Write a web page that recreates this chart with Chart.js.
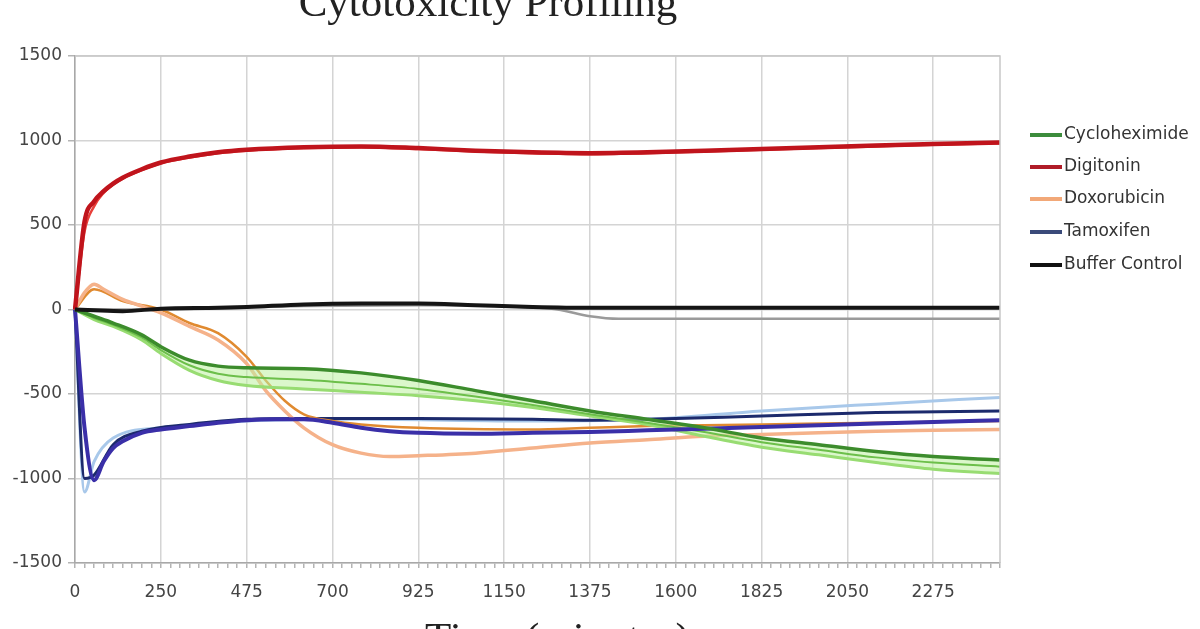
<!DOCTYPE html>
<html><head><meta charset="utf-8">
<script src="https://cdn.jsdelivr.net/npm/chart.js@4.4.1/dist/chart.umd.min.js"></script>
<style>html,body{margin:0;padding:0;background:#fff;}#wrap{width:1200px;height:629px;position:relative;}</style>
</head><body><div id="wrap"><canvas id="c"></canvas></div>
<script>
// Time categories (minutes)
const categories = [0,50,75,100,125,150,175,200,225,250,275,300,325,350,375,400,425,450,475,500,525,550,575,600,625,650,675,700,725,750,775,800,825,850,875,900,925,950,975,1000,1025,1050,1075,1100,1125,1150,1175,1200,1225,1250,1275,1300,1325,1350,1375,1400,1425,1450,1475,1500,1525,1550,1575,1600,1625,1650,1675,1700,1725,1750,1775,1800,1825,1850,1875,1900,1925,1950,1975,2000,2025,2050,2075,2100,2125,2150,2175,2200,2225,2250,2275,2300,2325,2350,2375,2400,2425,2450];
const xTickLabels = [0,250,475,700,925,1150,1375,1600,1825,2050,2275];
const yTickValues = [-1500,-1000,-500,0,500,1000,1500];

// Digitonin
const digiT = [0,50,75,100,125,150,200,250,325,400,475,625,775,925,1075,1225,1375,1525,1675,1825,1975,2125,2275,2450];
const digiV = [0,520,640,700,745,780,830,870,905,930,945,960,965,955,940,930,925,930,940,950,960,970,980,988];
const digiRepV = [0,460,610,690,740,775,825,865,900,925,940,955,960,950,935,925,918,925,935,945,955,965,975,983];

// Cycloheximide
const cycloT = [0,75,125,200,250,325,400,475,625,775,925,1075,1225,1375,1525,1675,1825,1975,2125,2275,2450];
const cycloV = [0,-40,-80,-150,-220,-300,-335,-345,-350,-375,-420,-480,-540,-600,-650,-700,-760,-800,-840,-870,-890];
const cycloMidV = [0,-50,-90,-165,-240,-330,-380,-400,-415,-440,-470,-515,-565,-620,-670,-725,-785,-830,-875,-905,-930];
const cycloLowV = [0,-60,-100,-180,-260,-360,-420,-450,-470,-490,-510,-540,-580,-630,-680,-750,-815,-860,-905,-945,-970];

// Doxorubicin
const doxoT = [0,50,75,100,150,200,250,325,400,475,525,575,625,700,775,850,925,1075,1225,1375,1525,1675,1825,1975,2125,2275,2450];
const doxoV = [0,100,150,120,60,20,-20,-100,-180,-320,-480,-600,-700,-800,-850,-870,-865,-850,-820,-790,-770,-750,-740,-730,-720,-715,-710];
const doxoRepT = [0,75,150,250,325,400,475,525,575,625,700,775,925,1225,1375,1525,1825,2125,2450];
const doxoRepV = [0,120,50,0,-80,-140,-280,-420,-540,-620,-660,-680,-700,-710,-700,-690,-680,-670,-660];

// Tamoxifen
const tamoT = [0,50,75,100,125,150,200,250,325,400,475,550,625,700,775,850,925,1075,1225,1375,1525,1675,1825,1975,2125,2275,2450];
const tamoV = [0,-700,-1010,-900,-820,-780,-730,-710,-690,-670,-655,-650,-650,-670,-700,-720,-730,-735,-730,-725,-715,-705,-695,-685,-675,-665,-655];
const tamoDarkT = [0,50,75,125,200,325,475,625,925,1225,1375,1525,1825,2125,2450];
const tamoDarkV = [0,-1000,-980,-800,-720,-680,-650,-645,-645,-650,-655,-650,-630,-610,-600];
const tamoLightT = [0,50,75,125,250,475,775,1225,1525,1825,2125,2450];
const tamoLightV = [0,-1080,-900,-760,-700,-660,-650,-660,-650,-600,-560,-520];

// Buffer Control
const bufT = [0,75,150,250,400,475,625,775,925,1075,1225,1375,1525,1825,2125,2450];
const bufV = [0,-5,-10,5,10,15,30,35,35,25,15,10,10,10,10,10];
const bufRepT = [0,250,625,925,1275,1375,1450,1825,2125,2450];
const bufRepV = [0,0,20,25,5,-40,-55,-55,-55,-55];

const legendNames = ['Cycloheximide','Digitonin','Doxorubicin','Tamoxifen','Buffer Control'];
const legendColors = ['#3c8c3c','#b01c28','#f2a878','#3a4a7a','#111111'];

function pts(T, V){ return T.map((t,i)=>({x:String(t), y:V[i]})); }
function ds(label, T, V, color, width, extra){
  return Object.assign({label, data:pts(T,V), borderColor:color, borderWidth:width, pointRadius:0, cubicInterpolationMode:'monotone', fill:false}, extra||{});
}

const datasets = [
  ds('Buffer Control', bufT, bufV, '#151515', 4, {order:1}),
  ds('Buffer rep', bufRepT, bufRepV, '#9a9a9a', 2.5, {order:6}),
  ds('Digitonin', digiT, digiV, '#c0141c', 4.5, {order:2}),
  ds('Digitonin rep', digiT, digiRepV, '#e8403a', 2.5, {order:3}),
  ds('Cycloheximide', cycloT, cycloV, '#3c8c2c', 3.5, {order:4}),
  ds('Cyclo mid', cycloT, cycloMidV, '#6cbf4a', 2, {order:7}),
  ds('Cyclo low', cycloT, cycloLowV, '#98dc72', 3, {order:8, fill:{target:4}, backgroundColor:'rgba(190,240,160,0.55)'}),
  ds('Doxorubicin', doxoT, doxoV, '#f5b28a', 3.5, {order:9}),
  ds('Doxo rep', doxoRepT, doxoRepV, '#e08a30', 2.5, {order:10}),
  ds('Tamoxifen', tamoT, tamoV, '#3a2fa8', 4, {order:5}),
  ds('Tamo dark', tamoDarkT, tamoDarkV, '#1c2a6c', 3, {order:11}),
  ds('Tamo light', tamoLightT, tamoLightV, '#a8c8ea', 3, {order:12})
];

const decor = {
  id:'decor',
  afterDraw(chart){
    const c = chart.ctx, a = chart.chartArea;
    c.save();
    c.strokeStyle = '#c8c8c8'; c.lineWidth = 1.5;
    c.beginPath(); c.moveTo(a.left, a.top); c.lineTo(a.right, a.top); c.lineTo(a.right, a.bottom); c.stroke();
    // title
    c.fillStyle = '#222';
    c.font = '43px "Liberation Serif", "DejaVu Serif", serif';
    c.textAlign = 'center'; c.textBaseline = 'alphabetic';
    c.fillText('Cytotoxicity Profiling', 488, 16);
    c.textAlign = 'left';
    c.fillText('Time (minutes)', 425, 652);
    // legend
    c.font = '17px "DejaVu Sans", sans-serif';
    c.textBaseline = 'middle';
    const ys = [135,167,199,232,265];
    legendNames.forEach((n,i)=>{
      c.strokeStyle = legendColors[i]; c.lineWidth = 4;
      c.beginPath(); c.moveTo(1030, ys[i]); c.lineTo(1062, ys[i]); c.stroke();
      c.fillStyle = '#333';
      c.fillText(n, 1064, ys[i]);
    });
    c.restore();
  }
};

new Chart(document.getElementById('c'), {
  type:'line',
  data:{ labels: categories.map(String), datasets },
  options:{
    responsive:true, maintainAspectRatio:false, animation:false,
    layout:{ padding:{ top:56, right:200, left:0, bottom:0 } },
    plugins:{ legend:{display:false}, title:{display:false}, tooltip:{enabled:false} },
    scales:{
      x:{
        type:'category', offset:false,
        grid:{ color:(ctx)=> (ctx.tick && xTickLabels.includes(Number(categories[ctx.index]))) ? '#d4d4d4' : 'rgba(0,0,0,0)', lineWidth:1.5, tickColor:'#b4b4b4', tickLength:5 },
        border:{ color:'#a8a8a8', width:1.5 },
        ticks:{ autoSkip:false, maxRotation:0, minRotation:0, padding:14,
          callback:(v,i)=> xTickLabels.includes(categories[i]) ? String(categories[i]) : '',
          font:{ family:'DejaVu Sans', size:17 }, color:'#444' },
        afterFit:(s)=>{ s.height = 66; }
      },
      y:{
        min:-1500, max:1500,
        afterBuildTicks:(s)=>{ s.ticks = yTickValues.map(v=>({value:v})); },
        grid:{ color:'#d4d4d4', lineWidth:1.5, tickColor:'#b4b4b4', tickLength:7 },
        border:{ color:'#a8a8a8', width:1.5 },
        ticks:{ padding:6, callback:(v)=>String(v), font:{ family:'DejaVu Sans', size:17 }, color:'#444' },
        afterFit:(s)=>{ s.width = 75; }
      }
    }
  },
  plugins:[decor]
});
</script>
</body></html>
